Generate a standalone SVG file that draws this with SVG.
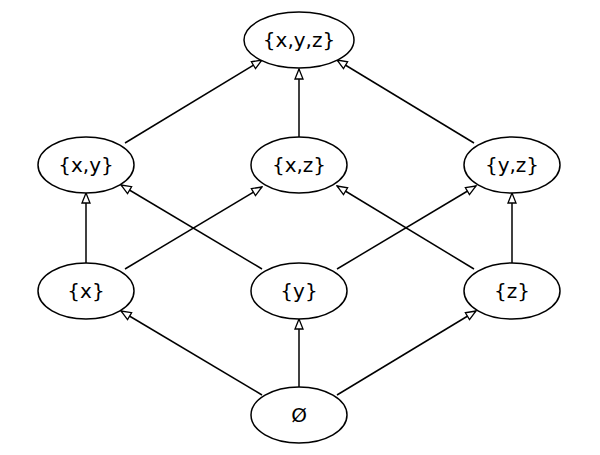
<svg xmlns="http://www.w3.org/2000/svg" width="600" height="455" viewBox="0 0 600 455">
<style>
ellipse{fill:#fff;stroke:#000;stroke-width:1.5}
text{font-family:"DejaVu Sans",sans-serif;font-size:20px;text-anchor:middle;dominant-baseline:central}
line{stroke:#000;stroke-width:1.5;marker-end:url(#a)}
</style>
<defs><marker id="a" viewBox="0 0 12 10" refX="11" refY="5" markerWidth="12" markerHeight="10" markerUnits="userSpaceOnUse" orient="auto"><path d="M1,1 L11,5 L1,9 Z" fill="#fff" stroke="#000" stroke-width="1.3"/></marker></defs>
<rect width="600" height="455" fill="#fff"/>
<g id="edges">
<line x1="125" y1="143" x2="262" y2="60"/>
<line x1="299" y1="137" x2="299" y2="69"/>
<line x1="474" y1="143" x2="337" y2="60"/>
<line x1="86" y1="264" x2="86" y2="193"/>
<line x1="125" y1="269" x2="262" y2="187"/>
<line x1="262" y1="269" x2="121" y2="185"/>
<line x1="337" y1="269" x2="476" y2="186"/>
<line x1="474" y1="269" x2="337" y2="186"/>
<line x1="512" y1="264" x2="512" y2="193"/>
<line x1="262" y1="395" x2="121" y2="311"/>
<line x1="299" y1="388" x2="299" y2="319"/>
<line x1="337" y1="395" x2="476" y2="311"/>
</g>
<g id="xyz"><ellipse cx="299" cy="40" rx="55" ry="28"/><text x="299" y="40">{x,y,z}</text></g>
<g id="xy"><ellipse cx="86" cy="165" rx="48" ry="28"/><text x="86" y="165">{x,y}</text></g>
<g id="xz"><ellipse cx="299" cy="165" rx="48" ry="28"/><text x="299" y="165">{x,z}</text></g>
<g id="yz"><ellipse cx="512" cy="165" rx="48" ry="28"/><text x="512" y="165">{y,z}</text></g>
<g id="x"><ellipse cx="86" cy="291" rx="48" ry="28"/><text x="86" y="291">{x}</text></g>
<g id="y"><ellipse cx="299" cy="291" rx="48" ry="28"/><text x="299" y="291">{y}</text></g>
<g id="z"><ellipse cx="512" cy="291" rx="48" ry="28"/><text x="512" y="291">{z}</text></g>
<g id="empty"><ellipse cx="299" cy="415" rx="48" ry="28"/><text x="299" y="415">Ø</text></g>
</svg>
